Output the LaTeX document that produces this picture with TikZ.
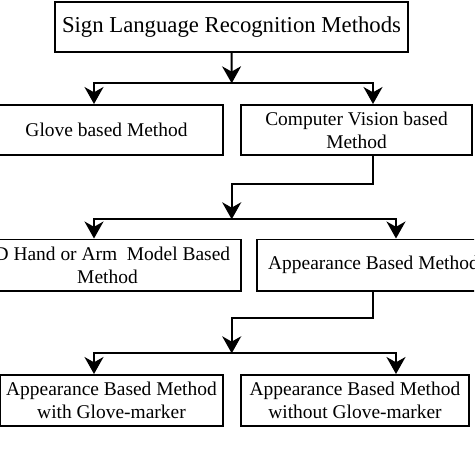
\documentclass[tikz,border=0pt]{standalone}
\usepackage{fontspec}
\setmainfont{Liberation Serif}
\usepackage{tikz}
\usetikzlibrary{arrows.meta, positioning, calc}

\begin{document}
\begin{tikzpicture}[
    x=0.03cm, y=-0.03cm,
    every node/.style={font=\fontsize{16.6}{19.6}\selectfont},
    method/.style={rectangle, draw=black, line width=1.7pt, align=center, inner sep=0pt, minimum height=1.5cm},
    titlebox/.style={method, font=\fontsize{19.4}{22}\selectfont, minimum width=10.59cm},
    link/.style={line width=1.7pt},
    arrow/.style={-{Stealth[length=0.51cm, width=0.57cm, inset=0.16cm]}, line width=1.7pt}
]

% Frame of the picture
\useasboundingbox (0,0) rectangle (474,474);
\clip (0,0) rectangle (474,474);
\fill[white] (0,0) rectangle (474,474);

% Top level
\node[titlebox] (slr) at (231.5,27) {Sign Language Recognition Methods};

% Second level
\node[method, minimum width=6.99cm] (glove) at (106.5,130) {Glove based Method};
\node[method, minimum width=6.93cm] (vision) at (356.5,130) {Computer Vision based\\Method};

% Third level
\node[method, minimum width=8.01cm, minimum height=1.53cm] (model) at (107.5,265) {3D Hand or Arm \ Model Based\\Method};
\node[method, minimum width=6.99cm, minimum height=1.53cm] (appear) at (373.5,265) {Appearance Based Method};

% Fourth level
\node[method, minimum width=6.69cm, minimum height=1.53cm] (withgm) at (111.5,400.5) {Appearance Based Method\\with Glove-marker};
\node[method, minimum width=6.84cm, minimum height=1.53cm] (withoutgm) at (355,400.5) {Appearance Based Method\\without Glove-marker};

% Split points and bends
\coordinate (bus1) at (231.7,83.3);
\coordinate (bus2) at (231.7,219.3);
\coordinate (bus3) at (231.7,353.3);
\coordinate (turn1) at (373,184.3);
\coordinate (turn2) at (373,318.3);
\coordinate (dropl) at (94,0);
\coordinate (dropr1) at (373,0);
\coordinate (dropr2) at (396,0);

% Arrows - first split
\draw[arrow] (slr.south) -- (bus1);
\draw[arrow] (bus1) -| (dropl |- glove.north);
\draw[arrow] (bus1) -| (dropr1 |- vision.north);

% Arrows - second split
\draw[arrow] (turn1 |- vision.south) -- (turn1) -| (bus2);
\draw[arrow] (bus2) -| (dropl |- model.north);
\draw[arrow] (bus2) -| (dropr2 |- appear.north);

% Arrows - third split
\draw[arrow] (turn2 |- appear.south) -- (turn2) -| (bus3);
\draw[arrow] (bus3) -| (dropl |- withgm.north);
\draw[arrow] (bus3) -| (dropr2 |- withoutgm.north);

\end{tikzpicture}
\end{document}
